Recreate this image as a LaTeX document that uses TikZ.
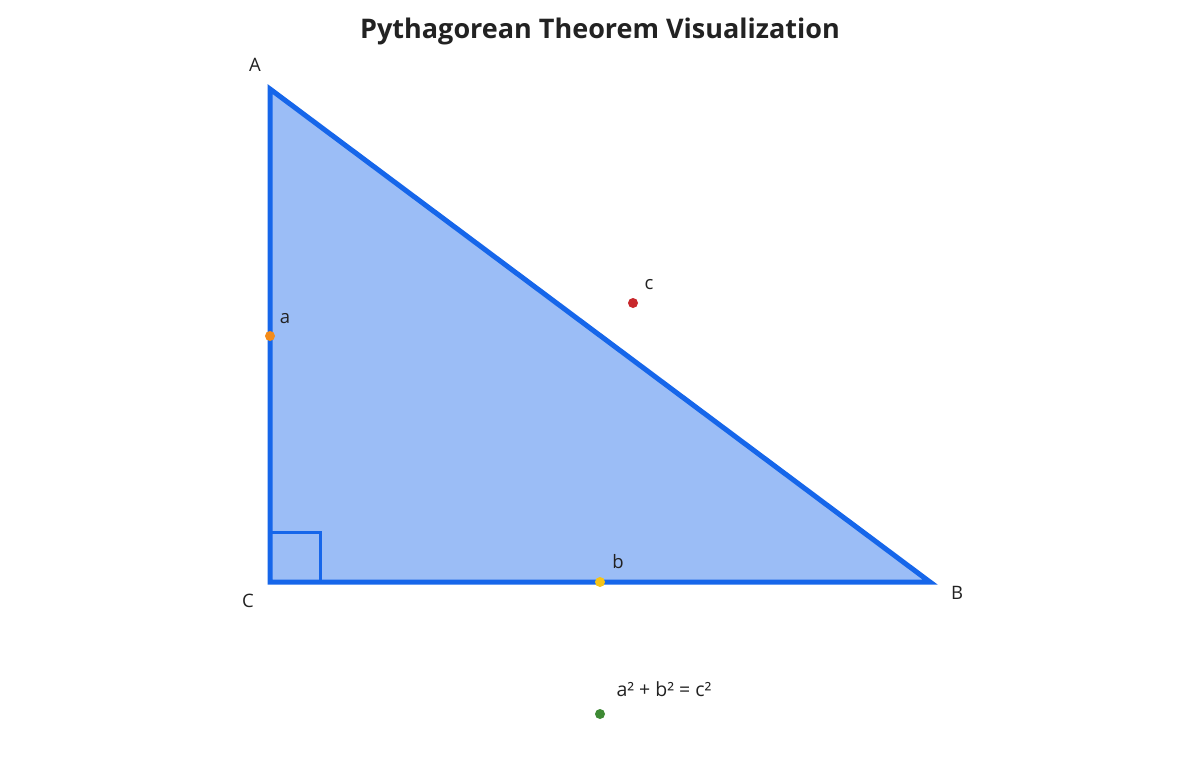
\documentclass[tikz,border=0pt]{standalone}
\usepackage{fontspec}
\setmainfont{Open Sans}
\newfontfamily\titlefont{Open Sans}
\definecolor{triline}{RGB}{22,102,234}
\definecolor{trifill}{RGB}{155,189,246}
\definecolor{dota}{RGB}{244,140,26}
\definecolor{dotb}{RGB}{246,196,24}
\definecolor{dotc}{RGB}{200,40,44}
\definecolor{dotf}{RGB}{62,138,52}
\definecolor{txt}{RGB}{34,34,34}
\begin{document}
\begin{tikzpicture}[x=1pt,y=-1pt,
  lbl/.style={font=\fontsize{18.5}{22}\selectfont, text=txt, inner sep=0pt},
  dotmark/.style={circle, inner sep=0pt, minimum size=10pt}]
\useasboundingbox (0,0) rectangle (1200,763);
\fill[white] (0,0) rectangle (1200,763);
\coordinate (A) at (270,89);
\coordinate (C) at (270,582);
\coordinate (B) at (930,582);
\fill[trifill] (A) -- (B) -- (C) -- cycle;
\draw[triline, line width=3pt] (270,532) -- (320,532) -- (320,582);
\draw[triline, line width=5pt, line join=miter] (A) -- (B) -- (C) -- cycle;
\node[font=\titlefont\bfseries\fontsize{27}{32}\selectfont, text=txt] (title) at (600,31) {Pythagorean Theorem Visualization};
\node[lbl] (lA) at (255,65) {A};
\node[lbl] (lC) at (248,601) {C};
\node[lbl] (lB) at (957,593) {B};
\node[dotmark, fill=dota] (da) at (270,336) {};
\node[lbl] (la) at (285,319) {a};
\node[dotmark, fill=dotc] (dc) at (633,303) {};
\node[lbl] (lc) at (649,285) {c};
\node[dotmark, fill=dotb] (db) at (600,582) {};
\node[lbl] (lb) at (618,562) {b};
\node[dotmark, fill=dotf] (df) at (600,714) {};
\node[lbl, font=\fontsize{19.5}{23}\selectfont] (lf) at (664,689) {a² + b² = c²};
\end{tikzpicture}
\end{document}
